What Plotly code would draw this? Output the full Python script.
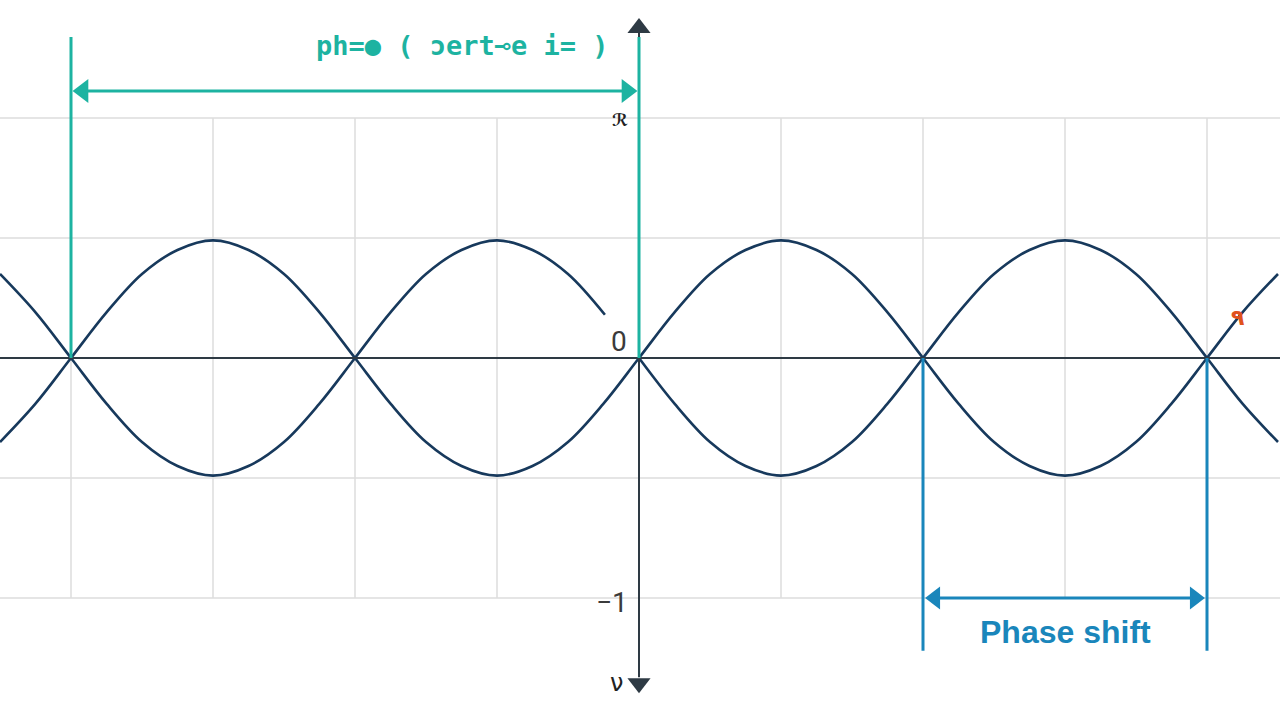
"""Phase-shift diagram: two mirrored sine waves with dimension arrows."""

import plotly.graph_objects as go

# curve samples (x in grid steps, y in axis units)
x_pts = [-4.5, -4.25, -4, -3.75, -3.5, -3.25, -3, -2.75, -2.5, -2.25, -2,
         -1.75, -1.5, -1.25, -1, -0.75, -0.5, -0.25, 0,
         0.25, 0.5, 0.75, 1, 1.25, 1.5, 1.75, 2, 2.25, 2.5, 2.75, 3,
         3.25, 3.5, 3.75, 4, 4.25, 4.5]
wave_up = [-0.35, -0.19, 0, 0.19, 0.35, 0.45, 0.49, 0.45, 0.35, 0.19, 0,
           -0.19, -0.35, -0.45, -0.49, -0.45, -0.35, -0.19, 0,
           0.19, 0.35, 0.45, 0.49, 0.45, 0.35, 0.19, 0, -0.19, -0.35, -0.45, -0.49,
           -0.45, -0.35, -0.19, 0, 0.19, 0.35]
# mirrored wave, with the small break just left of the origin
x_mirror = [-4.5, -4.25, -4, -3.75, -3.5, -3.25, -3, -2.75, -2.5, -2.25, -2,
            -1.75, -1.5, -1.25, -1, -0.75, -0.5, -0.24, None, 0,
            0.25, 0.5, 0.75, 1, 1.25, 1.5, 1.75, 2, 2.25, 2.5, 2.75, 3,
            3.25, 3.5, 3.75, 4, 4.25, 4.5]
wave_down = [0.35, 0.19, 0, -0.19, -0.35, -0.45, -0.49, -0.45, -0.35, -0.19, 0,
             0.19, 0.35, 0.45, 0.49, 0.45, 0.35, 0.18, None, 0,
             -0.19, -0.35, -0.45, -0.49, -0.45, -0.35, -0.19, 0, 0.19, 0.35, 0.45, 0.49,
             0.45, 0.35, 0.19, 0, -0.19, -0.35]

grid_x = [-4, -3, -2, -1, 1, 2, 3, 4]
grid_y = [-1, -0.5, 0.5, 1]
tick_labels = {"0": (-0.14, 0.07), "−1": (-0.19, -1.02)}

period_span = (-4, 0)      # teal bracket
shift_span = (2, 4)        # blue bracket
title_text = "ph=● ( ɔert⊸e i= )"
shift_text = "Phase shift"

NAVY = "#17395c"
TEAL = "#1db3a1"
BLUE = "#1a86bb"
AXIS = "#2e3a44"
GRID = "#dcdcdc"

X_RANGE = [-639 / 142, 641 / 142]
Y_RANGE = [-362 / 240, 358 / 240]

fig = go.Figure()

shapes = []
for gx in grid_x:
    shapes.append(dict(type="line", x0=gx, x1=gx, y0=-1, y1=1,
                       line=dict(color=GRID, width=1.5), layer="below"))
for gy in grid_y:
    shapes.append(dict(type="line", x0=X_RANGE[0], x1=X_RANGE[1], y0=gy, y1=gy,
                       line=dict(color=GRID, width=1.5), layer="below"))
# x axis and y axis
shapes.append(dict(type="line", x0=X_RANGE[0], x1=X_RANGE[1], y0=0, y1=0,
                   line=dict(color=AXIS, width=2)))
shapes.append(dict(type="line", x0=0, x1=0, y0=-1.33, y1=1.36,
                   line=dict(color=AXIS, width=2)))
# teal bracket
for bx in period_span:
    shapes.append(dict(type="line", x0=bx, x1=bx, y0=0, y1=1.3375,
                       line=dict(color=TEAL, width=3)))
shapes.append(dict(type="line", x0=period_span[0] + 0.1, x1=period_span[1] - 0.1,
                   y0=1.1125, y1=1.1125, line=dict(color=TEAL, width=3)))
# blue bracket
for bx in shift_span:
    shapes.append(dict(type="line", x0=bx, x1=bx, y0=0, y1=-1.22,
                       line=dict(color=BLUE, width=3)))
shapes.append(dict(type="line", x0=shift_span[0] + 0.1, x1=shift_span[1] - 0.1,
                   y0=-1.0, y1=-1.0, line=dict(color=BLUE, width=3)))

fig.add_trace(go.Scatter(x=x_pts, y=wave_up, mode="lines",
                         line=dict(color=NAVY, width=2.6, shape="spline", smoothing=1.0),
                         hoverinfo="skip"))
fig.add_trace(go.Scatter(x=x_mirror, y=wave_down, mode="lines", connectgaps=False,
                         line=dict(color=NAVY, width=2.6, shape="spline", smoothing=1.0),
                         hoverinfo="skip"))

# arrow heads as triangle markers
fig.add_trace(go.Scatter(x=[0, 0], y=[1.375, -1.355], mode="markers",
                         marker=dict(symbol=["triangle-up", "triangle-down"],
                                     size=20, color=AXIS),
                         hoverinfo="skip"))
fig.add_trace(go.Scatter(x=[period_span[0] + 0.085, period_span[1] - 0.085],
                         y=[1.1125, 1.1125], mode="markers",
                         marker=dict(symbol=["triangle-left", "triangle-right"],
                                     size=21, color=TEAL),
                         hoverinfo="skip"))
fig.add_trace(go.Scatter(x=[shift_span[0] + 0.085, shift_span[1] - 0.085],
                         y=[-1.0, -1.0], mode="markers",
                         marker=dict(symbol=["triangle-left", "triangle-right"],
                                     size=20, color=BLUE),
                         hoverinfo="skip"))

annotations = []
for txt, (tx, ty) in tick_labels.items():
    annotations.append(dict(x=tx, y=ty, text=txt, showarrow=False,
                            font=dict(family="Roboto", size=28, color="#3b3b3b")))
annotations += [
    dict(x=-0.135, y=0.99, text="<b>ℛ</b>", showarrow=False,
         font=dict(family="DejaVu Sans", size=17, color="#222222")),
    dict(x=-0.16, y=-1.354, text="ν", showarrow=False,
         font=dict(family="DejaVu Sans", size=24, color="#222222")),
    dict(x=4.218, y=0.167, text="<b>٩</b>", showarrow=False,
         font=dict(family="DejaVu Sans", size=22, color="#e0521c")),
    dict(x=-1.246, y=1.304, text=f"<b>{title_text}</b>", showarrow=False,
         font=dict(family="DejaVu Sans Mono", size=27, color=TEAL)),
    dict(x=3.0, y=-1.142, text=f"<b>{shift_text}</b>", showarrow=False,
         font=dict(family="Liberation Sans", size=32, color=BLUE)),
]

fig.update_layout(
    width=1280, height=720,
    margin=dict(l=0, r=0, t=0, b=0),
    paper_bgcolor="white", plot_bgcolor="white",
    showlegend=False,
    shapes=shapes, annotations=annotations,
    xaxis=dict(range=X_RANGE, visible=False, fixedrange=True),
    yaxis=dict(range=Y_RANGE, visible=False, fixedrange=True),
)

fig.write_html("out.html", config={"displayModeBar": False},
               post_script="document.body.style.margin='0';")
